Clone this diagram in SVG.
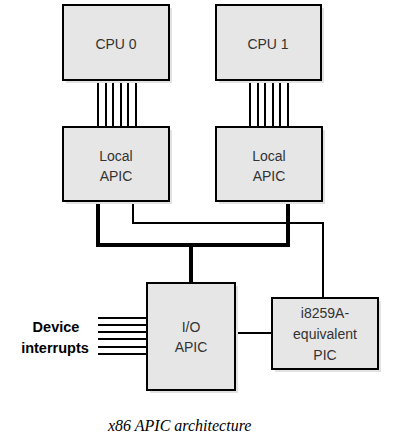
<svg xmlns="http://www.w3.org/2000/svg" width="419" height="446" viewBox="0 0 419 446">
<style>
.box{fill:#e6e6e6;stroke:#000;stroke-width:2}
.sh{fill:#e2e2e2}
.t{font-family:"Liberation Sans",Arial,sans-serif;font-size:14px;fill:#333;text-anchor:middle}
.b{font-family:"Liberation Sans",Arial,sans-serif;font-size:14.5px;font-weight:bold;fill:#000;text-anchor:middle}
.w{stroke:#000;stroke-width:2;fill:none}
.thick{stroke:#000;stroke-width:4;fill:none}
.cap{font-family:"Liberation Serif","Times New Roman",serif;font-style:italic;font-size:16px;fill:#000}
</style>
<rect width="419" height="446" fill="#fff"/>
<g id="connectors">
<path class="w" d="M98 80V127M106 80V127M113 80V127M121 80V127M128 80V127M136 80V127"/>
<path class="w" d="M250 80V127M258 80V127M265 80V127M273 80V127M280 80V127M288 80V127"/>
<path class="thick" d="M98 201V245H288V201M191 245V283"/>
<path class="w" d="M133 201V223H323V298"/>
<path class="w" d="M235 333H272"/>
<path class="w" d="M98 318H147M98 325H147M98 332H147M98 339H147M98 347H147M98 354H147"/>
</g>
<g id="cpu0">
<rect class="sh" x="66" y="8" width="106" height="75"/>
<rect class="box" x="63" y="5" width="106" height="75"/>
<text class="t" x="116" y="49">CPU 0</text>
</g>
<g id="cpu1">
<rect class="sh" x="219" y="8" width="105" height="75"/>
<rect class="box" x="216" y="5" width="105" height="75"/>
<text class="t" x="268" y="49">CPU 1</text>
</g>
<g id="lapic0">
<rect class="sh" x="66" y="130" width="106" height="74"/>
<rect class="box" x="63" y="127" width="106" height="74"/>
<text class="t" x="116" y="161">Local</text>
<text class="t" x="116" y="181">APIC</text>
</g>
<g id="lapic1">
<rect class="sh" x="219" y="130" width="106" height="74"/>
<rect class="box" x="216" y="127" width="106" height="74"/>
<text class="t" x="269" y="161">Local</text>
<text class="t" x="269" y="181">APIC</text>
</g>
<g id="ioapic">
<rect class="sh" x="150" y="286" width="88" height="107"/>
<rect class="box" x="147" y="283" width="88" height="107"/>
<text class="t" x="191" y="332">I/O</text>
<text class="t" x="191" y="352">APIC</text>
</g>
<g id="pic">
<rect class="sh" x="275" y="301" width="106" height="71"/>
<rect class="box" x="272" y="298" width="106" height="71"/>
<text class="t" x="325" y="318">i8259A-</text>
<text class="t" x="325" y="339">equivalent</text>
<text class="t" x="325" y="360">PIC</text>
</g>
<g id="device">
<text class="b" x="56" y="332">Device</text>
<text class="b" x="55" y="353">interrupts</text>
</g>
<text class="cap" x="108" y="431">x86 APIC architecture</text>
</svg>
